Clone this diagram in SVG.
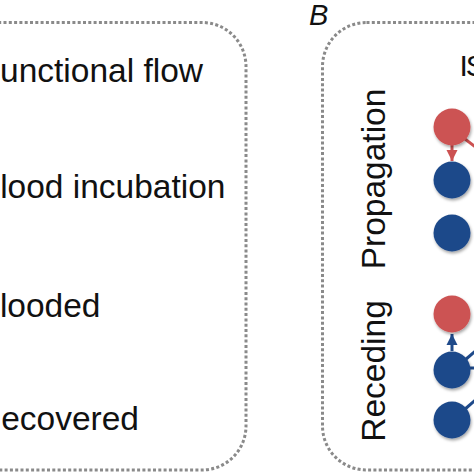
<svg xmlns="http://www.w3.org/2000/svg" width="474" height="474" viewBox="0 0 474 474">
<style>
.box{fill:none;stroke:#8a8a8a;stroke-width:3;stroke-dasharray:3 2.3}
.lbl{font-family:"Liberation Sans",Arial,sans-serif;font-size:33.5px;fill:#111}
.red{fill:#cc5252;filter:url(#sh)}
.blue{fill:#1f4a8a;filter:url(#sh)}
.rl{stroke:#cc5252;stroke-width:3;fill:none}
.bl{stroke:#1f4a8a;stroke-width:3;fill:none}
</style>
<defs>
<filter id="sh" x="-30%" y="-30%" width="170%" height="170%">
<feDropShadow dx="1" dy="2" stdDeviation="1.5" flood-color="#000" flood-opacity="0.35"/>
</filter>
<marker id="ar" viewBox="0 0 10 10" refX="10" refY="5" markerWidth="3.8" markerHeight="3.8" orient="auto" markerUnits="strokeWidth">
<path d="M0,0 L10,5 L0,10 z" fill="#cc5252"/>
</marker>
<marker id="ab" viewBox="0 0 10 10" refX="10" refY="5" markerWidth="3.8" markerHeight="3.8" orient="auto" markerUnits="strokeWidth">
<path d="M0,0 L10,5 L0,10 z" fill="#1f4a8a"/>
</marker>
</defs>
<rect width="474" height="474" fill="#fff"/>
<g id="panelA">
<rect class="box" x="-120" y="22.5" width="366" height="447.5" rx="44" ry="44"/>
<text class="lbl" x="203" y="82" text-anchor="end">unctional flow</text>
<text class="lbl" x="225.5" y="198" text-anchor="end">lood incubation</text>
<text class="lbl" x="100.5" y="317" text-anchor="end">looded</text>
<text class="lbl" x="139" y="430" text-anchor="end">ecovered</text>
</g>
<g id="panelB">
<text x="309" y="25" font-family="Liberation Sans,Arial,sans-serif" font-style="italic" font-size="29" fill="#111">B</text>
<rect class="box" x="322.5" y="22.5" width="300" height="447.5" rx="44" ry="44"/>
<text x="459.5" y="76" font-family="Liberation Sans,Arial,sans-serif" font-size="30" fill="#111" letter-spacing="-2">IS</text>
<text class="lbl" transform="translate(385,179) rotate(-90)" text-anchor="middle">Propagation</text>
<text class="lbl" transform="translate(385,371) rotate(-90)" text-anchor="middle">Receding</text>
</g>
<g id="connectors">
<line class="rl" x1="452" y1="145" x2="452" y2="161" marker-end="url(#ar)"/>
<line class="rl" x1="465" y1="139" x2="482" y2="152"/>
<line class="bl" x1="452" y1="351" x2="452" y2="334" marker-end="url(#ab)"/>
<line class="bl" x1="465" y1="360" x2="480" y2="347"/>
<line class="bl" x1="468" y1="368" x2="480" y2="368"/>
<line class="bl" x1="464" y1="410" x2="480" y2="396"/>
</g>
<g id="n-prop-red"><circle class="red" cx="452" cy="127" r="18.5"/></g>
<g id="n-prop-blue1"><circle class="blue" cx="452" cy="180" r="18.5"/></g>
<g id="n-prop-blue2"><circle class="blue" cx="452" cy="233" r="18.5"/></g>
<g id="n-rec-red"><circle class="red" cx="452" cy="314" r="18.5"/></g>
<g id="n-rec-blue1"><circle class="blue" cx="452" cy="370" r="18.5"/></g>
<g id="n-rec-blue2"><circle class="blue" cx="452" cy="420" r="18.5"/></g>
</svg>
